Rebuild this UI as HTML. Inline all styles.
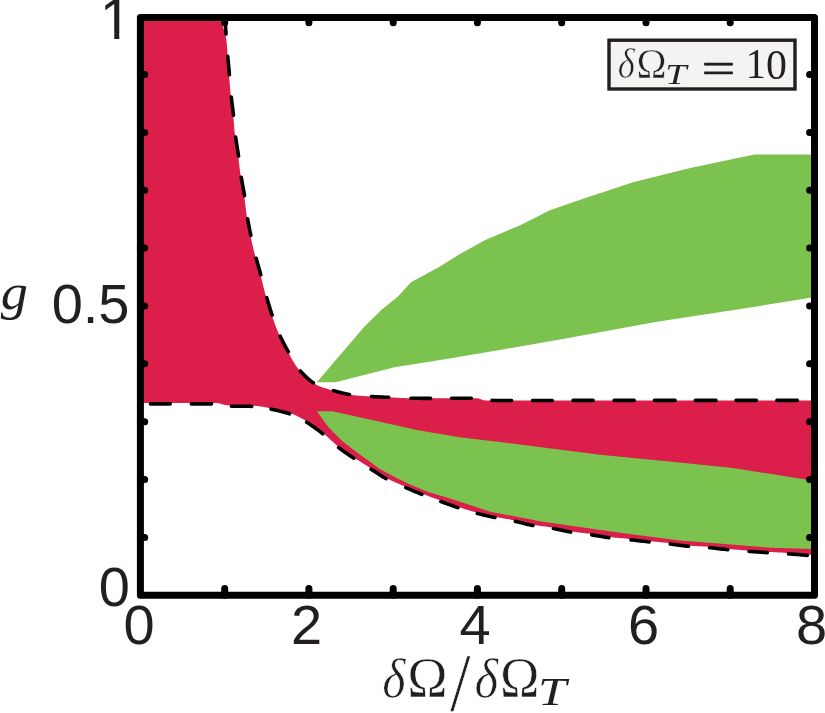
<!DOCTYPE html>
<html><head><meta charset="utf-8"><style>
html,body{margin:0;padding:0;background:#fff;overflow:hidden;}
svg{display:block;}
.tl{font-family:"Liberation Sans",Arial,sans-serif;font-size:56px;fill:#231f20;}
.cm{font-family:"Liberation Serif",serif;fill:#231f20;}
</style></head><body>
<svg width="825" height="713" viewBox="0 0 825 713">
<defs>
<clipPath id="ax"><rect x="140.4" y="17.5" width="674.1" height="577.7"/></clipPath>
<clipPath id="c1"><path d="M90,-5 H130 V33.3 H119.3 V42 H114.2 V33.3 H90 Z"/></clipPath>
</defs>
<rect width="825" height="713" fill="#fff"/>
<g clip-path="url(#ax)">
<path d="M130.00,0.00 L214.00,0.00 L214.47,1.50 L214.95,3.06 L215.45,4.67 L215.95,6.30 L216.45,7.93 L216.95,9.54 L217.43,11.10 L217.90,12.60 L218.35,14.01 L218.77,15.31 L219.15,16.48 L219.50,17.50 L219.65,17.93 L219.79,18.32 L219.93,18.68 L220.05,19.01 L220.18,19.33 L220.30,19.63 L220.41,19.92 L220.53,20.21 L220.64,20.49 L220.76,20.78 L220.88,21.08 L221.00,21.40 L221.12,21.72 L221.25,22.02 L221.37,22.32 L221.49,22.62 L221.61,22.91 L221.73,23.21 L221.85,23.51 L221.98,23.83 L222.10,24.17 L222.23,24.52 L222.36,24.90 L222.50,25.30 L222.76,26.09 L223.04,26.97 L223.34,27.93 L223.65,28.96 L223.97,30.04 L224.29,31.15 L224.60,32.27 L224.91,33.39 L225.19,34.49 L225.46,35.55 L225.70,36.56 L225.90,37.50 L226.03,38.18 L226.15,38.84 L226.26,39.47 L226.35,40.09 L226.44,40.70 L226.51,41.30 L226.58,41.90 L226.65,42.49 L226.71,43.10 L226.77,43.72 L226.83,44.35 L226.90,45.00 L226.97,45.74 L227.04,46.47 L227.10,47.20 L227.16,47.94 L227.21,48.68 L227.26,49.43 L227.31,50.20 L227.36,51.00 L227.42,51.82 L227.47,52.68 L227.53,53.57 L227.60,54.50 L227.71,56.02 L227.83,57.66 L227.95,59.40 L228.08,61.23 L228.22,63.11 L228.36,65.04 L228.50,67.00 L228.64,68.96 L228.78,70.91 L228.92,72.83 L229.06,74.70 L229.20,76.50 L229.32,78.11 L229.44,79.69 L229.55,81.25 L229.67,82.79 L229.78,84.33 L229.89,85.86 L230.01,87.39 L230.13,88.92 L230.26,90.46 L230.40,92.02 L230.54,93.60 L230.70,95.20 L230.88,96.97 L231.08,98.76 L231.30,100.58 L231.52,102.42 L231.75,104.27 L231.98,106.12 L232.22,107.97 L232.45,109.82 L232.68,111.65 L232.90,113.46 L233.11,115.25 L233.30,117.00 L233.46,118.57 L233.61,120.10 L233.74,121.62 L233.87,123.11 L233.99,124.60 L234.11,126.08 L234.23,127.56 L234.36,129.05 L234.50,130.55 L234.65,132.07 L234.82,133.62 L235.00,135.20 L235.23,137.02 L235.49,138.88 L235.76,140.77 L236.05,142.69 L236.35,144.63 L236.66,146.58 L236.97,148.52 L237.28,150.45 L237.58,152.37 L237.87,154.25 L238.15,156.10 L238.40,157.90 L238.61,159.44 L238.80,160.94 L238.98,162.41 L239.15,163.86 L239.31,165.30 L239.48,166.72 L239.64,168.15 L239.81,169.58 L239.99,171.02 L240.18,172.48 L240.38,173.98 L240.60,175.50 L240.87,177.25 L241.17,179.03 L241.48,180.84 L241.81,182.67 L242.14,184.52 L242.49,186.38 L242.83,188.24 L243.17,190.10 L243.50,191.95 L243.82,193.79 L244.12,195.61 L244.40,197.40 L244.64,199.07 L244.86,200.72 L245.07,202.37 L245.26,204.00 L245.45,205.63 L245.63,207.25 L245.82,208.87 L246.01,210.49 L246.21,212.11 L246.42,213.73 L246.65,215.36 L246.90,217.00 L247.18,218.68 L247.46,220.36 L247.76,222.05 L248.07,223.74 L248.39,225.43 L248.72,227.12 L249.06,228.81 L249.40,230.50 L249.74,232.18 L250.09,233.86 L250.45,235.53 L250.80,237.20 L251.15,238.83 L251.50,240.44 L251.86,242.05 L252.22,243.66 L252.58,245.26 L252.95,246.86 L253.32,248.46 L253.71,250.06 L254.09,251.67 L254.49,253.27 L254.89,254.88 L255.30,256.50 L255.73,258.17 L256.18,259.84 L256.64,261.51 L257.11,263.19 L257.59,264.87 L258.07,266.55 L258.56,268.23 L259.04,269.91 L259.52,271.59 L259.99,273.27 L260.45,274.94 L260.90,276.60 L261.32,278.22 L261.73,279.83 L262.13,281.43 L262.53,283.04 L262.92,284.64 L263.31,286.24 L263.70,287.83 L264.09,289.44 L264.50,291.04 L264.92,292.65 L265.35,294.27 L265.80,295.90 L266.29,297.62 L266.79,299.35 L267.31,301.10 L267.83,302.85 L268.37,304.61 L268.91,306.38 L269.46,308.13 L270.02,309.88 L270.59,311.61 L271.15,313.33 L271.73,315.03 L272.30,316.70 L272.83,318.24 L273.37,319.76 L273.90,321.26 L274.43,322.75 L274.97,324.22 L275.51,325.69 L276.07,327.16 L276.64,328.62 L277.22,330.08 L277.82,331.55 L278.45,333.02 L279.10,334.50 L279.81,336.08 L280.56,337.66 L281.32,339.26 L282.11,340.86 L282.91,342.46 L283.73,344.06 L284.56,345.65 L285.41,347.23 L286.25,348.80 L287.10,350.36 L287.95,351.89 L288.80,353.40 L289.59,354.82 L290.37,356.23 L291.13,357.63 L291.90,359.02 L292.67,360.40 L293.45,361.77 L294.26,363.12 L295.08,364.46 L295.95,365.78 L296.85,367.07 L297.80,368.35 L298.80,369.60 L299.91,370.91 L301.08,372.23 L302.29,373.54 L303.54,374.84 L304.83,376.11 L306.15,377.36 L307.50,378.58 L308.87,379.74 L310.26,380.86 L311.67,381.91 L313.08,382.89 L314.50,383.80 L315.82,384.56 L317.17,385.25 L318.53,385.88 L319.91,386.45 L321.30,386.98 L322.71,387.47 L324.13,387.93 L325.57,388.37 L327.02,388.80 L328.47,389.23 L329.93,389.66 L331.40,390.10 L332.96,390.57 L334.54,391.03 L336.14,391.49 L337.75,391.93 L339.38,392.36 L341.01,392.77 L342.65,393.16 L344.29,393.54 L345.93,393.89 L347.56,394.22 L349.19,394.52 L350.80,394.80 L352.34,395.04 L353.87,395.24 L355.39,395.42 L356.91,395.57 L358.42,395.70 L359.94,395.82 L361.46,395.92 L362.99,396.02 L364.52,396.11 L366.07,396.20 L367.63,396.30 L369.20,396.40 L370.90,396.51 L372.62,396.61 L374.36,396.70 L376.11,396.79 L377.87,396.88 L379.64,396.96 L381.41,397.03 L383.17,397.11 L384.93,397.18 L386.67,397.25 L388.40,397.32 L390.10,397.40 L391.65,397.47 L393.13,397.55 L394.56,397.62 L395.97,397.70 L397.36,397.77 L398.77,397.84 L400.21,397.91 L401.71,397.98 L403.29,398.04 L404.97,398.10 L406.76,398.15 L408.70,398.20 L412.91,398.27 L417.96,398.32 L423.65,398.34 L429.80,398.35 L436.21,398.35 L442.70,398.34 L449.08,398.32 L455.16,398.31 L460.75,398.29 L465.66,398.28 L469.71,398.28 L472.70,398.30 L473.36,398.30 L473.94,398.30 L474.46,398.29 L474.93,398.27 L475.36,398.26 L475.76,398.25 L476.14,398.24 L476.51,398.25 L476.88,398.26 L477.26,398.29 L477.66,398.34 L478.10,398.40 L478.59,398.50 L479.09,398.63 L479.59,398.79 L480.09,398.96 L480.59,399.15 L481.09,399.35 L481.59,399.54 L482.09,399.73 L482.60,399.91 L483.10,400.07 L483.60,400.20 L484.10,400.30 L484.55,400.37 L484.97,400.41 L485.36,400.44 L485.74,400.46 L486.11,400.46 L486.50,400.46 L486.92,400.45 L487.37,400.43 L487.87,400.42 L488.44,400.40 L489.07,400.40 L489.80,400.40 L494.13,400.43 L500.17,400.44 L507.66,400.45 L516.36,400.45 L526.02,400.45 L536.39,400.44 L547.22,400.44 L558.27,400.43 L569.27,400.42 L580.00,400.41 L590.19,400.40 L599.60,400.40 L608.10,400.40 L616.54,400.40 L624.93,400.40 L633.28,400.40 L641.60,400.40 L649.89,400.40 L658.17,400.40 L666.44,400.40 L674.71,400.40 L682.99,400.40 L691.28,400.40 L699.60,400.40 L829.60,400.40 L830.00,400.20 L830.00,557.00 L830.00,556.20 L828.26,556.08 L826.52,555.95 L824.79,555.83 L823.06,555.71 L821.33,555.59 L819.59,555.46 L817.86,555.34 L816.12,555.22 L814.37,555.09 L812.62,554.96 L810.87,554.83 L809.10,554.70 L807.26,554.56 L805.40,554.41 L803.52,554.25 L801.62,554.09 L799.73,553.93 L797.83,553.77 L795.95,553.61 L794.07,553.46 L792.21,553.31 L790.38,553.16 L788.57,553.03 L786.80,552.90 L785.26,552.80 L783.75,552.70 L782.28,552.62 L780.82,552.53 L779.37,552.46 L777.94,552.38 L776.50,552.31 L775.06,552.23 L773.61,552.15 L772.13,552.07 L770.63,551.99 L769.10,551.90 L767.36,551.79 L765.57,551.69 L763.76,551.58 L761.92,551.46 L760.06,551.35 L758.20,551.23 L756.34,551.11 L754.48,550.99 L752.64,550.87 L750.83,550.75 L749.04,550.62 L747.30,550.50 L745.77,550.39 L744.26,550.28 L742.79,550.18 L741.33,550.07 L739.89,549.96 L738.45,549.85 L737.01,549.74 L735.57,549.62 L734.11,549.50 L732.63,549.38 L731.13,549.24 L729.60,549.10 L727.85,548.93 L726.07,548.74 L724.25,548.53 L722.41,548.32 L720.56,548.09 L718.69,547.87 L716.83,547.65 L714.98,547.43 L713.14,547.23 L711.32,547.03 L709.54,546.86 L707.80,546.70 L706.28,546.58 L704.80,546.49 L703.34,546.41 L701.90,546.34 L700.47,546.27 L699.05,546.22 L697.63,546.16 L696.20,546.09 L694.76,546.02 L693.30,545.93 L691.82,545.83 L690.30,545.70 L688.56,545.53 L686.77,545.34 L684.96,545.12 L683.12,544.89 L681.26,544.65 L679.40,544.40 L677.53,544.15 L675.68,543.90 L673.84,543.65 L672.02,543.42 L670.24,543.20 L668.50,543.00 L666.98,542.84 L665.50,542.68 L664.04,542.54 L662.60,542.40 L661.17,542.27 L659.75,542.13 L658.33,542.00 L656.90,541.87 L655.46,541.74 L654.01,541.60 L652.52,541.45 L651.00,541.30 L649.26,541.12 L647.48,540.93 L645.68,540.73 L643.85,540.52 L642.00,540.31 L640.14,540.10 L638.28,539.89 L636.43,539.68 L634.59,539.48 L632.76,539.28 L630.96,539.09 L629.20,538.90 L627.60,538.74 L626.03,538.59 L624.47,538.45 L622.92,538.32 L621.39,538.19 L619.86,538.06 L618.34,537.92 L616.81,537.78 L615.28,537.63 L613.73,537.47 L612.18,537.29 L610.60,537.10 L608.91,536.87 L607.20,536.62 L605.48,536.35 L603.74,536.07 L602.00,535.78 L600.26,535.48 L598.52,535.18 L596.78,534.88 L595.06,534.59 L593.35,534.31 L591.66,534.05 L590.00,533.80 L588.50,533.59 L587.02,533.41 L585.56,533.23 L584.12,533.07 L582.68,532.91 L581.25,532.75 L579.82,532.59 L578.39,532.42 L576.94,532.24 L575.48,532.05 L574.00,531.84 L572.50,531.60 L570.82,531.31 L569.11,530.99 L567.37,530.64 L565.62,530.27 L563.85,529.89 L562.08,529.51 L560.31,529.12 L558.55,528.74 L556.80,528.37 L555.07,528.02 L553.37,527.70 L551.70,527.40 L550.23,527.17 L548.79,526.96 L547.38,526.77 L545.98,526.60 L544.59,526.44 L543.20,526.28 L541.82,526.13 L540.43,525.96 L539.03,525.78 L537.61,525.58 L536.17,525.36 L534.70,525.10 L533.01,524.77 L531.28,524.41 L529.52,524.01 L527.74,523.59 L525.94,523.16 L524.14,522.71 L522.34,522.26 L520.55,521.81 L518.77,521.38 L517.01,520.96 L515.29,520.56 L513.60,520.20 L512.13,519.90 L510.70,519.63 L509.29,519.37 L507.90,519.12 L506.52,518.88 L505.15,518.65 L503.78,518.42 L502.40,518.18 L501.01,517.93 L499.60,517.67 L498.17,517.40 L496.70,517.10 L495.01,516.75 L493.28,516.38 L491.51,515.99 L489.72,515.60 L487.91,515.20 L486.10,514.78 L484.29,514.36 L482.49,513.93 L480.71,513.50 L478.97,513.07 L477.26,512.63 L475.60,512.20 L474.19,511.82 L472.82,511.44 L471.48,511.07 L470.16,510.69 L468.86,510.31 L467.56,509.92 L466.27,509.53 L464.98,509.13 L463.67,508.72 L462.34,508.29 L460.99,507.85 L459.60,507.40 L457.97,506.86 L456.30,506.29 L454.60,505.70 L452.87,505.09 L451.13,504.46 L449.38,503.83 L447.62,503.20 L445.88,502.56 L444.16,501.93 L442.47,501.30 L440.81,500.69 L439.20,500.10 L437.82,499.60 L436.48,499.10 L435.16,498.62 L433.87,498.14 L432.59,497.67 L431.31,497.20 L430.04,496.72 L428.77,496.24 L427.48,495.75 L426.18,495.25 L424.86,494.73 L423.50,494.20 L421.95,493.58 L420.36,492.94 L418.75,492.28 L417.11,491.61 L415.47,490.93 L413.82,490.24 L412.16,489.55 L410.51,488.85 L408.88,488.15 L407.26,487.46 L405.66,486.78 L404.10,486.10 L402.68,485.49 L401.27,484.89 L399.88,484.31 L398.50,483.73 L397.13,483.15 L395.77,482.57 L394.41,481.98 L393.06,481.37 L391.70,480.75 L390.34,480.10 L388.97,479.42 L387.60,478.70 L386.10,477.88 L384.58,477.01 L383.06,476.11 L381.53,475.17 L380.00,474.21 L378.48,473.24 L376.96,472.26 L375.45,471.28 L373.95,470.30 L372.48,469.34 L371.03,468.41 L369.60,467.50 L368.35,466.72 L367.14,465.96 L365.94,465.21 L364.76,464.47 L363.59,463.74 L362.43,463.01 L361.27,462.28 L360.11,461.54 L358.94,460.79 L357.75,460.02 L356.54,459.22 L355.30,458.40 L353.85,457.43 L352.35,456.43 L350.82,455.41 L349.27,454.36 L347.71,453.30 L346.14,452.23 L344.58,451.14 L343.03,450.05 L341.51,448.96 L340.03,447.87 L338.59,446.78 L337.20,445.70 L336.03,444.74 L334.90,443.79 L333.82,442.82 L332.77,441.86 L331.74,440.90 L330.72,439.93 L329.69,438.96 L328.66,437.99 L327.60,437.02 L326.52,436.04 L325.38,435.07 L324.20,434.10 L322.76,432.95 L321.25,431.78 L319.70,430.58 L318.10,429.37 L316.48,428.16 L314.83,426.96 L313.18,425.77 L311.53,424.62 L309.90,423.51 L308.29,422.44 L306.72,421.44 L305.20,420.50 L304.00,419.79 L302.85,419.11 L301.72,418.46 L300.61,417.85 L299.50,417.25 L298.40,416.69 L297.29,416.14 L296.17,415.61 L295.01,415.09 L293.82,414.59 L292.59,414.09 L291.30,413.60 L289.65,413.02 L287.92,412.46 L286.12,411.92 L284.26,411.40 L282.36,410.90 L280.44,410.42 L278.51,409.96 L276.59,409.53 L274.69,409.11 L272.83,408.72 L271.03,408.35 L269.30,408.00 L267.91,407.73 L266.57,407.47 L265.26,407.23 L263.98,407.00 L262.72,406.79 L261.46,406.60 L260.20,406.42 L258.93,406.25 L257.63,406.09 L256.30,405.95 L254.93,405.82 L253.50,405.70 L251.62,405.58 L249.58,405.50 L247.41,405.44 L245.17,405.42 L242.89,405.41 L240.63,405.41 L238.41,405.43 L236.29,405.44 L234.30,405.45 L232.50,405.45 L230.91,405.44 L229.60,405.40 L229.14,405.38 L228.73,405.37 L228.36,405.35 L228.02,405.34 L227.71,405.33 L227.41,405.31 L227.12,405.30 L226.83,405.27 L226.53,405.24 L226.21,405.20 L225.87,405.16 L225.50,405.10 L224.95,405.00 L224.36,404.86 L223.74,404.70 L223.10,404.52 L222.45,404.33 L221.78,404.13 L221.12,403.94 L220.46,403.75 L219.81,403.58 L219.18,403.42 L218.57,403.29 L218.00,403.20 L217.58,403.15 L217.20,403.11 L216.84,403.09 L216.49,403.07 L216.15,403.07 L215.81,403.07 L215.46,403.08 L215.10,403.08 L214.71,403.09 L214.28,403.10 L213.82,403.10 L213.30,403.10 L211.95,403.09 L210.35,403.08 L208.55,403.08 L206.59,403.08 L204.50,403.08 L202.32,403.08 L200.09,403.08 L197.84,403.09 L195.62,403.09 L193.47,403.10 L191.41,403.10 L189.50,403.10 L187.96,403.10 L186.46,403.10 L184.99,403.10 L183.56,403.10 L182.14,403.10 L180.74,403.10 L179.33,403.10 L177.92,403.10 L176.49,403.10 L175.03,403.10 L173.54,403.10 L172.00,403.10 L170.17,403.10 L168.28,403.10 L166.35,403.10 L164.39,403.10 L162.40,403.10 L160.40,403.10 L158.40,403.10 L156.40,403.10 L154.42,403.10 L152.47,403.10 L150.56,403.10 L148.70,403.10 L147.07,403.10 L145.46,403.10 L143.88,403.10 L142.31,403.10 L140.76,403.10 L139.22,403.10 L137.69,403.10 L136.16,403.10 L134.63,403.10 L133.09,403.10 L131.55,403.10 L130.00,403.10 Z" fill="#db1e4a"/>
<path d="M316.80,382.30 L364.30,326.80 L381.30,309.90 L398.20,296.30 L411.00,282.20 L438.70,267.30 L460.00,254.00 L485.30,239.90 L521.30,224.70 L549.30,210.50 L585.30,198.00 L612.00,189.20 L632.10,182.40 L690.30,167.90 L754.50,154.50 L830.00,154.50 L830.00,294.70 L760.00,305.90 L657.00,321.70 L560.00,339.40 L520.00,346.50 L447.90,358.80 L394.50,367.30 L335.50,382.30 L316.80,382.30 Z" fill="#7bc24f"/>
<path d="M316.90,411.30 L332.10,411.30 L380.00,421.70 L390.00,423.90 L417.90,430.30 L459.70,437.30 L529.40,445.70 L600.00,454.70 L666.70,461.30 L733.30,468.00 L830.00,483.40 L830.00,549.30 L811.00,549.00 L771.60,547.80 L730.90,544.40 L680.00,540.50 L620.00,532.80 L541.20,521.40 L490.30,511.70 L450.00,498.60 L428.20,491.90 L408.80,484.10 L394.20,476.80 L379.70,469.10 L370.00,461.80 L359.10,454.10 L342.40,441.30 L328.20,427.10 L316.90,411.30 Z" fill="#7bc24f"/>
<path d="M223.70,0.00 L223.74,0.65 L223.78,1.28 L223.82,1.89 L223.85,2.49 L223.89,3.09 L223.93,3.70 L223.96,4.32 L224.00,4.98 L224.05,5.66 L224.09,6.39 L224.14,7.16 L224.20,8.00 L224.32,9.75 L224.46,11.73 L224.61,13.90 L224.78,16.23 L224.95,18.67 L225.13,21.20 L225.32,23.76 L225.51,26.32 L225.69,28.84 L225.87,31.29 L226.04,33.62 L226.20,35.80 L226.32,37.48 L226.44,39.11 L226.56,40.70 L226.67,42.25 L226.78,43.78 L226.89,45.29 L227.00,46.79 L227.11,48.29 L227.23,49.81 L227.34,51.34 L227.47,52.90 L227.60,54.50 L227.75,56.28 L227.91,58.08 L228.07,59.92 L228.24,61.77 L228.42,63.63 L228.59,65.50 L228.77,67.37 L228.94,69.23 L229.12,71.08 L229.28,72.92 L229.45,74.72 L229.60,76.50 L229.73,78.11 L229.86,79.69 L229.98,81.25 L230.09,82.79 L230.20,84.33 L230.32,85.86 L230.43,87.39 L230.55,88.92 L230.67,90.46 L230.80,92.02 L230.95,93.60 L231.10,95.20 L231.28,96.97 L231.48,98.76 L231.70,100.58 L231.92,102.42 L232.15,104.27 L232.38,106.12 L232.62,107.97 L232.85,109.82 L233.08,111.65 L233.30,113.46 L233.51,115.25 L233.70,117.00 L233.86,118.57 L234.01,120.10 L234.14,121.62 L234.27,123.11 L234.39,124.60 L234.51,126.08 L234.63,127.56 L234.76,129.05 L234.90,130.55 L235.05,132.07 L235.22,133.62 L235.40,135.20 L235.63,137.02 L235.89,138.88 L236.16,140.77 L236.45,142.69 L236.75,144.63 L237.06,146.58 L237.37,148.52 L237.68,150.45 L237.98,152.37 L238.27,154.25 L238.55,156.10 L238.80,157.90 L239.01,159.44 L239.20,160.94 L239.38,162.41 L239.55,163.86 L239.71,165.30 L239.88,166.72 L240.04,168.15 L240.21,169.58 L240.39,171.02 L240.58,172.48 L240.78,173.98 L241.00,175.50 L241.27,177.25 L241.57,179.03 L241.88,180.84 L242.21,182.67 L242.54,184.52 L242.89,186.38 L243.23,188.24 L243.57,190.10 L243.90,191.95 L244.22,193.79 L244.52,195.61 L244.80,197.40 L245.04,199.07 L245.26,200.72 L245.47,202.37 L245.66,204.00 L245.85,205.63 L246.03,207.25 L246.22,208.87 L246.41,210.49 L246.61,212.11 L246.82,213.73 L247.05,215.36 L247.30,217.00 L247.58,218.68 L247.86,220.36 L248.16,222.05 L248.47,223.74 L248.79,225.43 L249.12,227.12 L249.46,228.81 L249.80,230.50 L250.14,232.18 L250.49,233.86 L250.85,235.53 L251.20,237.20 L251.55,238.83 L251.90,240.44 L252.26,242.05 L252.62,243.66 L252.98,245.26 L253.35,246.86 L253.72,248.46 L254.11,250.06 L254.49,251.67 L254.89,253.27 L255.29,254.88 L255.70,256.50 L256.13,258.17 L256.58,259.84 L257.04,261.51 L257.51,263.19 L257.99,264.87 L258.47,266.55 L258.96,268.23 L259.44,269.91 L259.92,271.59 L260.39,273.27 L260.85,274.94 L261.30,276.60 L261.72,278.22 L262.13,279.83 L262.53,281.43 L262.93,283.04 L263.32,284.64 L263.71,286.24 L264.10,287.83 L264.49,289.44 L264.90,291.04 L265.32,292.65 L265.75,294.27 L266.20,295.90 L266.69,297.62 L267.19,299.35 L267.71,301.10 L268.23,302.85 L268.77,304.61 L269.31,306.38 L269.86,308.13 L270.42,309.88 L270.99,311.61 L271.55,313.33 L272.13,315.03 L272.70,316.70 L273.23,318.24 L273.77,319.76 L274.30,321.26 L274.83,322.75 L275.37,324.22 L275.91,325.69 L276.47,327.16 L277.04,328.62 L277.62,330.08 L278.22,331.55 L278.85,333.02 L279.50,334.50 L280.21,336.08 L280.96,337.66 L281.72,339.26 L282.51,340.86 L283.31,342.46 L284.13,344.06 L284.96,345.65 L285.81,347.23 L286.65,348.80 L287.50,350.36 L288.35,351.89 L289.20,353.40 L289.99,354.82 L290.77,356.23 L291.53,357.63 L292.30,359.02 L293.07,360.40 L293.85,361.77 L294.66,363.12 L295.48,364.46 L296.35,365.78 L297.25,367.07 L298.20,368.35 L299.20,369.60 L300.31,370.91 L301.48,372.23 L302.69,373.54 L303.94,374.84 L305.23,376.11 L306.55,377.36 L307.90,378.58 L309.27,379.74 L310.66,380.86 L312.07,381.91 L313.48,382.89 L314.90,383.80 L316.22,384.56 L317.57,385.25 L318.93,385.88 L320.31,386.45 L321.70,386.98 L323.11,387.47 L324.53,387.93 L325.97,388.37 L327.42,388.80 L328.87,389.23 L330.33,389.66 L331.80,390.10 L333.36,390.57 L334.94,391.03 L336.54,391.49 L338.15,391.93 L339.78,392.36 L341.41,392.77 L343.05,393.16 L344.69,393.54 L346.33,393.89 L347.96,394.22 L349.59,394.52 L351.20,394.80 L352.74,395.04 L354.27,395.24 L355.79,395.42 L357.31,395.57 L358.82,395.70 L360.34,395.82 L361.86,395.92 L363.39,396.02 L364.92,396.11 L366.47,396.20 L368.03,396.30 L369.60,396.40 L371.30,396.51 L373.02,396.61 L374.76,396.70 L376.51,396.79 L378.27,396.88 L380.04,396.96 L381.81,397.03 L383.57,397.11 L385.33,397.18 L387.07,397.25 L388.80,397.32 L390.50,397.40 L392.05,397.47 L393.53,397.55 L394.96,397.62 L396.37,397.70 L397.76,397.77 L399.17,397.84 L400.61,397.91 L402.11,397.98 L403.69,398.04 L405.37,398.10 L407.16,398.15 L409.10,398.20 L413.31,398.27 L418.36,398.32 L424.05,398.34 L430.20,398.35 L436.61,398.35 L443.10,398.34 L449.48,398.32 L455.56,398.31 L461.15,398.29 L466.06,398.28 L470.11,398.28 L473.10,398.30 L473.76,398.30 L474.34,398.30 L474.86,398.29 L475.33,398.27 L475.76,398.26 L476.16,398.25 L476.54,398.24 L476.91,398.25 L477.28,398.26 L477.66,398.29 L478.06,398.34 L478.50,398.40 L478.99,398.50 L479.49,398.63 L479.99,398.79 L480.49,398.96 L480.99,399.15 L481.49,399.35 L481.99,399.54 L482.49,399.73 L483.00,399.91 L483.50,400.07 L484.00,400.20 L484.50,400.30 L484.95,400.37 L485.37,400.41 L485.76,400.44 L486.14,400.46 L486.51,400.46 L486.90,400.46 L487.32,400.45 L487.77,400.43 L488.27,400.42 L488.84,400.40 L489.47,400.40 L490.20,400.40 L494.53,400.43 L500.57,400.44 L508.06,400.45 L516.76,400.45 L526.42,400.45 L536.79,400.44 L547.62,400.44 L558.67,400.43 L569.67,400.42 L580.40,400.41 L590.59,400.40 L600.00,400.40 L608.46,400.40 L616.79,400.40 L625.02,400.40 L633.19,400.40 L641.33,400.40 L649.47,400.40 L657.64,400.40 L665.87,400.40 L674.19,400.40 L682.63,400.40 L691.22,400.40 L700.00,400.40 L710.24,400.40 L720.68,400.40 L731.30,400.40 L742.07,400.40 L752.96,400.40 L763.94,400.40 L774.97,400.40 L786.04,400.40 L797.10,400.40 L808.14,400.40 L819.11,400.40 L830.00,400.40" fill="none" stroke="#000" stroke-width="3.6" stroke-linecap="round" stroke-linejoin="round" stroke-dasharray="24.27 22.35 18.49 22.36 18.36 21.88 19.35 21.34 18.63 23.36 16.98 23.42 17.27 23.51 18.19 22.66 17.65 22.67 17.66 21.69 16.38 22.08 17.32 22.22 19.70 21.00 19.70 21.02 19.60 20.90 19.80 20.70 20.10 21.00 20.10 20.20 20.70 20.20 20.70 20.00 20.40 20.50 20.40 20.00 8.90 969.33" stroke-dashoffset="-9.82"/>
<path d="M130.00,403.90 L131.55,403.90 L133.09,403.90 L134.63,403.90 L136.16,403.90 L137.69,403.90 L139.22,403.90 L140.76,403.90 L142.31,403.90 L143.88,403.90 L145.46,403.90 L147.07,403.90 L148.70,403.90 L150.56,403.90 L152.47,403.90 L154.42,403.90 L156.40,403.90 L158.40,403.90 L160.40,403.90 L162.40,403.90 L164.39,403.90 L166.35,403.90 L168.28,403.90 L170.17,403.90 L172.00,403.90 L173.54,403.90 L175.03,403.90 L176.49,403.90 L177.92,403.90 L179.33,403.90 L180.74,403.90 L182.14,403.90 L183.56,403.90 L184.99,403.90 L186.46,403.90 L187.96,403.90 L189.50,403.90 L191.41,403.90 L193.47,403.90 L195.62,403.89 L197.84,403.89 L200.09,403.88 L202.32,403.88 L204.50,403.88 L206.59,403.88 L208.55,403.88 L210.35,403.88 L211.95,403.89 L213.30,403.90 L213.82,403.90 L214.28,403.90 L214.71,403.89 L215.10,403.88 L215.46,403.88 L215.81,403.87 L216.15,403.87 L216.49,403.87 L216.84,403.89 L217.20,403.91 L217.58,403.95 L218.00,404.00 L218.57,404.09 L219.18,404.22 L219.81,404.38 L220.46,404.55 L221.12,404.74 L221.78,404.93 L222.45,405.13 L223.10,405.32 L223.74,405.50 L224.36,405.66 L224.95,405.80 L225.50,405.90 L225.87,405.96 L226.21,406.00 L226.53,406.04 L226.83,406.07 L227.12,406.10 L227.41,406.11 L227.71,406.13 L228.02,406.14 L228.36,406.15 L228.73,406.17 L229.14,406.18 L229.60,406.20 L230.91,406.24 L232.50,406.25 L234.30,406.25 L236.29,406.24 L238.41,406.23 L240.63,406.21 L242.89,406.21 L245.17,406.22 L247.41,406.24 L249.58,406.30 L251.62,406.38 L253.50,406.50 L254.93,406.62 L256.30,406.75 L257.63,406.89 L258.93,407.05 L260.20,407.22 L261.46,407.40 L262.72,407.59 L263.98,407.80 L265.26,408.03 L266.57,408.27 L267.91,408.53 L269.30,408.80 L271.03,409.15 L272.83,409.52 L274.69,409.91 L276.59,410.33 L278.51,410.76 L280.44,411.22 L282.36,411.70 L284.26,412.20 L286.12,412.72 L287.92,413.26 L289.65,413.82 L291.30,414.40 L292.59,414.89 L293.82,415.39 L295.01,415.89 L296.17,416.41 L297.29,416.94 L298.40,417.49 L299.50,418.05 L300.61,418.65 L301.72,419.26 L302.85,419.91 L304.00,420.59 L305.20,421.30 L306.72,422.24 L308.29,423.24 L309.90,424.31 L311.53,425.42 L313.18,426.57 L314.83,427.76 L316.48,428.96 L318.10,430.17 L319.70,431.38 L321.25,432.58 L322.76,433.75 L324.20,434.90 L325.38,435.87 L326.52,436.84 L327.60,437.82 L328.66,438.79 L329.69,439.76 L330.72,440.73 L331.74,441.70 L332.77,442.66 L333.82,443.62 L334.90,444.59 L336.03,445.54 L337.20,446.50 L338.59,447.58 L340.03,448.67 L341.51,449.76 L343.03,450.85 L344.58,451.94 L346.14,453.03 L347.71,454.10 L349.27,455.16 L350.82,456.21 L352.35,457.23 L353.85,458.23 L355.30,459.20 L356.54,460.02 L357.75,460.82 L358.94,461.59 L360.11,462.34 L361.27,463.08 L362.43,463.81 L363.59,464.54 L364.76,465.27 L365.94,466.01 L367.14,466.76 L368.35,467.52 L369.60,468.30 L371.03,469.21 L372.48,470.14 L373.95,471.10 L375.45,472.08 L376.96,473.06 L378.48,474.04 L380.00,475.01 L381.53,475.97 L383.06,476.91 L384.58,477.81 L386.10,478.68 L387.60,479.50 L388.97,480.22 L390.34,480.90 L391.70,481.55 L393.06,482.17 L394.41,482.78 L395.77,483.37 L397.13,483.95 L398.50,484.53 L399.88,485.11 L401.27,485.69 L402.68,486.29 L404.10,486.90 L405.66,487.58 L407.26,488.26 L408.88,488.95 L410.51,489.65 L412.16,490.35 L413.82,491.04 L415.47,491.73 L417.11,492.41 L418.75,493.08 L420.36,493.74 L421.95,494.38 L423.50,495.00 L424.86,495.53 L426.18,496.05 L427.48,496.55 L428.77,497.04 L430.04,497.52 L431.31,498.00 L432.59,498.47 L433.87,498.94 L435.16,499.42 L436.48,499.90 L437.82,500.40 L439.20,500.90 L440.81,501.49 L442.47,502.10 L444.16,502.73 L445.88,503.36 L447.62,504.00 L449.38,504.63 L451.13,505.26 L452.87,505.89 L454.60,506.50 L456.30,507.09 L457.97,507.66 L459.60,508.20 L460.99,508.65 L462.34,509.09 L463.67,509.52 L464.98,509.93 L466.27,510.33 L467.56,510.72 L468.86,511.11 L470.16,511.49 L471.48,511.87 L472.82,512.24 L474.19,512.62 L475.60,513.00 L477.26,513.43 L478.97,513.87 L480.71,514.30 L482.49,514.73 L484.29,515.16 L486.10,515.58 L487.91,516.00 L489.72,516.40 L491.51,516.79 L493.28,517.18 L495.01,517.55 L496.70,517.90 L498.17,518.20 L499.60,518.47 L501.01,518.73 L502.40,518.98 L503.78,519.22 L505.15,519.45 L506.52,519.68 L507.90,519.92 L509.29,520.17 L510.70,520.43 L512.13,520.70 L513.60,521.00 L515.29,521.36 L517.01,521.76 L518.77,522.18 L520.55,522.61 L522.34,523.06 L524.14,523.51 L525.94,523.96 L527.74,524.39 L529.52,524.81 L531.28,525.21 L533.01,525.57 L534.70,525.90 L536.17,526.16 L537.61,526.38 L539.03,526.58 L540.43,526.76 L541.82,526.93 L543.20,527.08 L544.59,527.24 L545.98,527.40 L547.38,527.57 L548.79,527.76 L550.23,527.97 L551.70,528.20 L553.37,528.50 L555.07,528.82 L556.80,529.17 L558.55,529.54 L560.31,529.92 L562.08,530.31 L563.85,530.69 L565.62,531.07 L567.37,531.44 L569.11,531.79 L570.82,532.11 L572.50,532.40 L574.00,532.64 L575.48,532.85 L576.94,533.04 L578.39,533.22 L579.82,533.39 L581.25,533.55 L582.68,533.71 L584.12,533.87 L585.56,534.03 L587.02,534.21 L588.50,534.39 L590.00,534.60 L591.66,534.85 L593.35,535.11 L595.06,535.39 L596.78,535.68 L598.52,535.98 L600.26,536.28 L602.00,536.58 L603.74,536.87 L605.48,537.15 L607.20,537.42 L608.91,537.67 L610.60,537.90 L612.18,538.09 L613.73,538.27 L615.28,538.43 L616.81,538.58 L618.34,538.72 L619.86,538.86 L621.39,538.99 L622.92,539.12 L624.47,539.25 L626.03,539.39 L627.60,539.54 L629.20,539.70 L630.96,539.89 L632.76,540.08 L634.59,540.28 L636.43,540.48 L638.28,540.69 L640.14,540.90 L642.00,541.11 L643.85,541.32 L645.68,541.53 L647.48,541.73 L649.26,541.92 L651.00,542.10 L652.52,542.25 L654.01,542.40 L655.46,542.54 L656.90,542.67 L658.33,542.80 L659.75,542.93 L661.17,543.07 L662.60,543.20 L664.04,543.34 L665.50,543.48 L666.98,543.64 L668.50,543.80 L670.24,544.00 L672.02,544.22 L673.84,544.45 L675.68,544.70 L677.53,544.95 L679.40,545.20 L681.26,545.45 L683.12,545.69 L684.96,545.92 L686.77,546.14 L688.56,546.33 L690.30,546.50 L691.82,546.63 L693.30,546.73 L694.76,546.82 L696.20,546.89 L697.63,546.96 L699.05,547.02 L700.47,547.07 L701.90,547.14 L703.34,547.21 L704.80,547.29 L706.28,547.38 L707.80,547.50 L709.54,547.66 L711.32,547.83 L713.14,548.03 L714.98,548.23 L716.83,548.45 L718.69,548.67 L720.56,548.89 L722.41,549.12 L724.25,549.33 L726.07,549.54 L727.85,549.73 L729.60,549.90 L731.13,550.04 L732.63,550.18 L734.11,550.30 L735.57,550.42 L737.01,550.54 L738.45,550.65 L739.89,550.76 L741.33,550.87 L742.79,550.98 L744.26,551.08 L745.77,551.19 L747.30,551.30 L749.04,551.42 L750.83,551.55 L752.64,551.67 L754.48,551.79 L756.34,551.91 L758.20,552.03 L760.06,552.15 L761.92,552.26 L763.76,552.38 L765.57,552.49 L767.36,552.59 L769.10,552.70 L770.63,552.79 L772.13,552.87 L773.61,552.95 L775.06,553.03 L776.50,553.11 L777.94,553.18 L779.37,553.26 L780.82,553.33 L782.28,553.42 L783.75,553.50 L785.26,553.60 L786.80,553.70 L788.57,553.83 L790.38,553.96 L792.21,554.11 L794.07,554.26 L795.95,554.41 L797.83,554.57 L799.73,554.73 L801.62,554.89 L803.52,555.05 L805.40,555.21 L807.26,555.36 L809.10,555.50 L810.87,555.63 L812.62,555.76 L814.37,555.89 L816.12,556.02 L817.86,556.14 L819.59,556.26 L821.33,556.39 L823.06,556.51 L824.79,556.63 L826.52,556.75 L828.26,556.88 L830.00,557.00" fill="none" stroke="#000" stroke-width="3.6" stroke-linecap="round" stroke-linejoin="round" stroke-dasharray="19.70 21.10 20.20 20.16 20.30 19.58 19.12 19.14 19.78 21.03 18.52 20.55 17.61 21.69 17.42 20.37 18.07 20.31 18.06 20.78 18.06 20.76 17.62 21.24 17.26 22.29 18.33 21.18 18.37 21.13 18.33 21.36 18.25 21.33 18.77 781.04" stroke-dashoffset="-20.50"/>
</g>
<path d="M140.4,537.4 h4.3 M814.5,537.4 h-4.9 M140.4,479.5 h4.3 M814.5,479.5 h-4.9 M140.4,421.7 h4.3 M814.5,421.7 h-4.9 M140.4,363.8 h4.3 M814.5,363.8 h-4.9 M140.4,306.0 h4.3 M814.5,306.0 h-4.9 M140.4,248.1 h4.3 M814.5,248.1 h-4.9 M140.4,190.3 h4.3 M814.5,190.3 h-4.9 M140.4,132.4 h4.3 M814.5,132.4 h-4.9 M140.4,74.6 h4.3 M814.5,74.6 h-4.9 M224.7,595.2 v-6.7 M224.7,17.5 v5.3 M308.9,595.2 v-6.7 M308.9,17.5 v5.3 M393.2,595.2 v-6.7 M393.2,17.5 v5.3 M477.4,595.2 v-6.7 M477.4,17.5 v5.3 M561.7,595.2 v-6.7 M561.7,17.5 v5.3 M646.0,595.2 v-6.7 M646.0,17.5 v5.3 M730.2,595.2 v-6.7 M730.2,17.5 v5.3" stroke="#000" stroke-width="7" stroke-linecap="round" fill="none"/>
<rect x="140.4" y="17.5" width="674.1" height="577.7" fill="none" stroke="#000" stroke-width="7" stroke-linejoin="round"/>
<rect x="609" y="40.2" width="186" height="48.8" fill="#f4f3f2" stroke="#231f20" stroke-width="3.4"/>
<text transform="translate(382.31,697.15) scale(0.907,1.000)" class="cm" font-style="italic" font-size="54.93" stroke="#fff" stroke-width="0.6" vector-effect="non-scaling-stroke">δ</text>
<text transform="translate(407.25,697.10) scale(0.950,1.000)" class="cm" font-style="normal" font-size="57.21" stroke="#fff" stroke-width="0.6" vector-effect="non-scaling-stroke">Ω</text>
<text transform="translate(450.10,709.99) scale(1.350,1.482)" class="cm" font-style="normal" font-size="55.00" stroke="#fff" stroke-width="0.7" vector-effect="non-scaling-stroke">/</text>
<text transform="translate(474.48,697.04) scale(0.909,1.000)" class="cm" font-style="italic" font-size="55.77" stroke="#fff" stroke-width="0.6" vector-effect="non-scaling-stroke">δ</text>
<text transform="translate(499.91,696.70) scale(0.926,1.000)" class="cm" font-style="normal" font-size="57.36" stroke="#fff" stroke-width="0.6" vector-effect="non-scaling-stroke">Ω</text>
<text transform="translate(537.99,705.30) scale(1.283,1.000)" class="cm" font-style="italic" font-size="39.69">T</text>
<text transform="translate(617.80,78.09) scale(0.885,1.000)" class="cm" font-style="italic" font-size="41.41" stroke="#f4f3f2" stroke-width="0.6" vector-effect="non-scaling-stroke">δ</text>
<text transform="translate(636.48,78.00) scale(0.944,1.000)" class="cm" font-style="normal" font-size="42.87" stroke="#f4f3f2" stroke-width="0.6" vector-effect="non-scaling-stroke">Ω</text>
<text transform="translate(665.32,84.00) scale(1.276,1.000)" class="cm" font-style="italic" font-size="29.92">T</text>
<text transform="translate(701.73,82.18) scale(1.387,1.000)" class="cm" font-style="normal" font-size="42.80" stroke="#231f20" stroke-width="0.9" vector-effect="non-scaling-stroke">=</text>
<text transform="translate(745.78,78.40) scale(0.974,1.000)" class="cm" font-style="normal" font-size="41.36">1</text>
<text transform="translate(765.93,78.58) scale(0.992,1.000)" class="cm" font-style="normal" font-size="42.22">0</text>
<text transform="translate(0.80,309.07) scale(1.055,1.000)" class="cm" font-style="italic" font-size="51.43">g</text>
<text class="tl" x="99.7" y="38.9" font-size="57.5" style="font-size:57.5px" clip-path="url(#c1)">1</text>
<text class="tl" x="129.5" y="322.8" text-anchor="end">0.5</text>
<text class="tl" x="98.8" y="606">0</text>
<text class="tl" x="139" y="643.7" text-anchor="middle">0</text>
<text class="tl" x="306.7" y="643.7" text-anchor="middle">2</text>
<text class="tl" x="475" y="643.7" text-anchor="middle">4</text>
<text class="tl" x="643.6" y="643.7" text-anchor="middle">6</text>
<text class="tl" x="811.5" y="643.7" text-anchor="middle">8</text>
</svg>
</body></html>
